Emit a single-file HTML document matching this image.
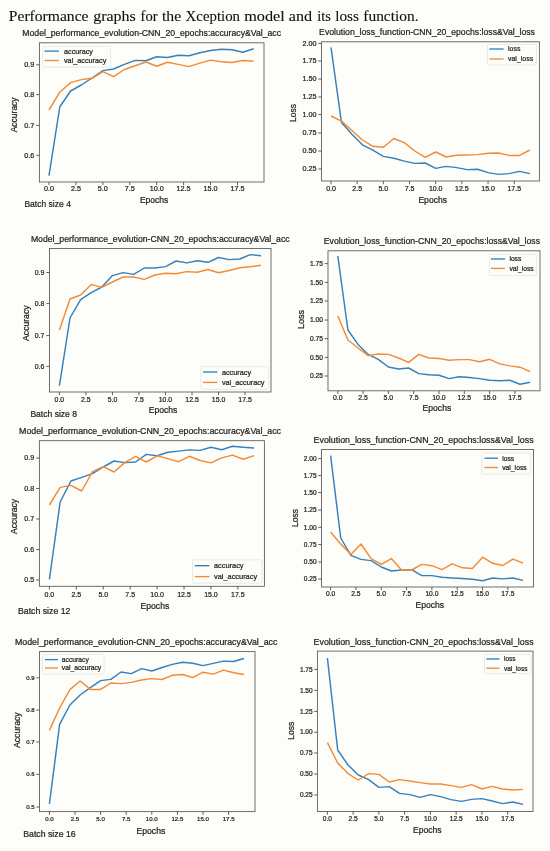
<!DOCTYPE html>
<html><head><meta charset="utf-8"><title>Performance graphs</title>
<style>
html,body{margin:0;padding:0;background:#fdfdf9;}
body{width:550px;height:851px;overflow:hidden;}
svg{display:block;will-change:transform;}
svg text{font-family:"Liberation Sans",sans-serif;stroke:#222;stroke-width:0.22px;}
svg text.cap{stroke:#111;stroke-width:0.12px;}
svg text.cap{font-family:"Liberation Serif",serif;}
</style></head><body>
<svg width="550" height="851" viewBox="0 0 550 851">
<rect width="550" height="851" fill="#fdfdf9"/>
<text class="cap" x="8.8" y="20.5" font-size="15.3" textLength="79.71" lengthAdjust="spacingAndGlyphs" fill="#111">Performance</text>
<text class="cap" x="93.2" y="20.5" font-size="15.3" textLength="42.6" lengthAdjust="spacingAndGlyphs" fill="#111">graphs</text>
<text class="cap" x="140.6" y="20.5" font-size="15.3" textLength="17" lengthAdjust="spacingAndGlyphs" fill="#111">for</text>
<text class="cap" x="162" y="20.5" font-size="15.3" textLength="19.19" lengthAdjust="spacingAndGlyphs" fill="#111">the</text>
<text class="cap" x="185.6" y="20.5" font-size="15.3" textLength="54.39" lengthAdjust="spacingAndGlyphs" fill="#111">Xception</text>
<text class="cap" x="244.2" y="20.5" font-size="15.3" textLength="40.59" lengthAdjust="spacingAndGlyphs" fill="#111">model</text>
<text class="cap" x="288.8" y="20.5" font-size="15.3" textLength="23.3" lengthAdjust="spacingAndGlyphs" fill="#111">and</text>
<text class="cap" x="317.2" y="20.5" font-size="15.3" textLength="13.6" lengthAdjust="spacingAndGlyphs" fill="#111">its</text>
<text class="cap" x="335.2" y="20.5" font-size="15.3" textLength="23.7" lengthAdjust="spacingAndGlyphs" fill="#111">loss</text>
<text class="cap" x="363.3" y="20.5" font-size="15.3" textLength="55.19" lengthAdjust="spacingAndGlyphs" fill="#111">function.</text>
<polyline points="49,175.6 59.77,107 70.54,91 81.31,85 92.08,78 102.85,70.6 113.62,69 124.39,64.4 135.16,60.4 145.93,60.8 156.7,56.8 167.47,57.5 178.24,55.3 189.01,55.7 199.78,52.7 210.55,50.5 221.32,49.2 232.09,49.8 242.86,52.2 253.63,48.7" fill="none" stroke="#3680bb" stroke-width="1.45" stroke-linejoin="round"/>
<polyline points="49,110 59.77,92.2 70.54,82.6 81.31,79.6 92.08,78.3 102.85,71.6 113.62,76.6 124.39,69.5 135.16,65.8 145.93,62 156.7,66.2 167.47,62.3 178.24,64.4 189.01,66.6 199.78,63.1 210.55,60.1 221.32,61.8 232.09,62.5 242.86,60.5 253.63,61.2" fill="none" stroke="#f38b36" stroke-width="1.45" stroke-linejoin="round"/>
<rect x="42.6" y="46.4" width="68" height="20.7" rx="1.5" fill="#fdfdf9" fill-opacity="0.8" stroke="#e3e3e0" stroke-width="0.8"/>
<line x1="44.5" y1="51.1" x2="59" y2="51.1" stroke="#3680bb" stroke-width="1.35"/>
<text x="64" y="53.71" font-size="7.25" textLength="29" lengthAdjust="spacingAndGlyphs" fill="#222">accuracy</text>
<line x1="44.5" y1="60.5" x2="59" y2="60.5" stroke="#f38b36" stroke-width="1.35"/>
<text x="64" y="63.11" font-size="7.25" textLength="42.3" lengthAdjust="spacingAndGlyphs" fill="#222">val_accuracy</text>
<rect x="39.4" y="42.8" width="224.6" height="139.2" fill="none" stroke="#5e5e5e" stroke-width="0.9"/>
<line x1="36.2" y1="155.3" x2="39.4" y2="155.3" stroke="#5e5e5e" stroke-width="1"/>
<text x="34.4" y="157.81" font-size="7.3" text-anchor="end" fill="#222">0.6</text>
<line x1="36.2" y1="125.3" x2="39.4" y2="125.3" stroke="#5e5e5e" stroke-width="1"/>
<text x="34.4" y="127.81" font-size="7.3" text-anchor="end" fill="#222">0.7</text>
<line x1="36.2" y1="94.6" x2="39.4" y2="94.6" stroke="#5e5e5e" stroke-width="1"/>
<text x="34.4" y="97.11" font-size="7.3" text-anchor="end" fill="#222">0.8</text>
<line x1="36.2" y1="64.8" x2="39.4" y2="64.8" stroke="#5e5e5e" stroke-width="1"/>
<text x="34.4" y="67.31" font-size="7.3" text-anchor="end" fill="#222">0.9</text>
<line x1="49" y1="182" x2="49" y2="185.2" stroke="#5e5e5e" stroke-width="1"/>
<text x="49" y="190.98" font-size="7.2" text-anchor="middle" fill="#222">0.0</text>
<line x1="75.92" y1="182" x2="75.92" y2="185.2" stroke="#5e5e5e" stroke-width="1"/>
<text x="75.92" y="190.98" font-size="7.2" text-anchor="middle" fill="#222">2.5</text>
<line x1="102.85" y1="182" x2="102.85" y2="185.2" stroke="#5e5e5e" stroke-width="1"/>
<text x="102.85" y="190.98" font-size="7.2" text-anchor="middle" fill="#222">5.0</text>
<line x1="129.77" y1="182" x2="129.77" y2="185.2" stroke="#5e5e5e" stroke-width="1"/>
<text x="129.77" y="190.98" font-size="7.2" text-anchor="middle" fill="#222">7.5</text>
<line x1="156.7" y1="182" x2="156.7" y2="185.2" stroke="#5e5e5e" stroke-width="1"/>
<text x="156.7" y="190.98" font-size="7.2" text-anchor="middle" fill="#222">10.0</text>
<line x1="183.62" y1="182" x2="183.62" y2="185.2" stroke="#5e5e5e" stroke-width="1"/>
<text x="183.62" y="190.98" font-size="7.2" text-anchor="middle" fill="#222">12.5</text>
<line x1="210.55" y1="182" x2="210.55" y2="185.2" stroke="#5e5e5e" stroke-width="1"/>
<text x="210.55" y="190.98" font-size="7.2" text-anchor="middle" fill="#222">15.0</text>
<line x1="237.47" y1="182" x2="237.47" y2="185.2" stroke="#5e5e5e" stroke-width="1"/>
<text x="237.47" y="190.98" font-size="7.2" text-anchor="middle" fill="#222">17.5</text>
<text x="22.3" y="35.6" font-size="8.8" textLength="258.7" lengthAdjust="spacingAndGlyphs" fill="#222">Model_performance_evolution-CNN_20_epochs:accuracy&amp;Val_acc</text>
<text transform="translate(16.7,0) rotate(-90)" x="-132.3" y="0" font-size="8.4" textLength="34.9" lengthAdjust="spacingAndGlyphs" fill="#222">Accuracy</text>
<text x="139.9" y="202.96" font-size="8.5" textLength="28.5" lengthAdjust="spacingAndGlyphs" fill="#222">Epochs</text>
<text x="24.4" y="207.46" font-size="8.5" textLength="46.5" lengthAdjust="spacingAndGlyphs" fill="#222">Batch size 4</text>
<polyline points="331,47.4 341.47,122.5 351.94,134.2 362.41,144.8 372.88,150.2 383.35,156.4 393.82,158.2 404.29,161.1 414.76,163.4 425.23,163 435.7,168.4 446.17,166.4 456.64,167.6 467.11,169.6 477.58,169.2 488.05,172.6 498.52,174.4 508.99,173.6 519.46,171.4 529.93,173.6" fill="none" stroke="#3680bb" stroke-width="1.45" stroke-linejoin="round"/>
<polyline points="331,116 341.47,121.1 351.94,130.5 362.41,140 372.88,146.3 383.35,147.3 393.82,138.5 404.29,142.6 414.76,151 425.23,157.4 435.7,152 446.17,157 456.64,155.2 467.11,155 477.58,154.6 488.05,153.3 498.52,153 508.99,155.4 519.46,155.4 529.93,150" fill="none" stroke="#f38b36" stroke-width="1.45" stroke-linejoin="round"/>
<rect x="487.4" y="44.4" width="49" height="20.6" rx="1.5" fill="#fdfdf9" fill-opacity="0.8" stroke="#e3e3e0" stroke-width="0.8"/>
<line x1="489.4" y1="49" x2="503.6" y2="49" stroke="#3680bb" stroke-width="1.35"/>
<text x="508" y="51.48" font-size="6.9" textLength="12.4" lengthAdjust="spacingAndGlyphs" fill="#222">loss</text>
<line x1="489.4" y1="59" x2="503.6" y2="59" stroke="#f38b36" stroke-width="1.35"/>
<text x="508" y="61.48" font-size="6.9" textLength="25.2" lengthAdjust="spacingAndGlyphs" fill="#222">val_loss</text>
<rect x="321.5" y="41.8" width="217.9" height="139.2" fill="none" stroke="#5e5e5e" stroke-width="0.9"/>
<line x1="318.3" y1="169" x2="321.5" y2="169" stroke="#5e5e5e" stroke-width="1"/>
<text x="316.6" y="171.48" font-size="7.2" text-anchor="end" fill="#222">0.25</text>
<line x1="318.3" y1="151" x2="321.5" y2="151" stroke="#5e5e5e" stroke-width="1"/>
<text x="316.6" y="153.48" font-size="7.2" text-anchor="end" fill="#222">0.50</text>
<line x1="318.3" y1="133" x2="321.5" y2="133" stroke="#5e5e5e" stroke-width="1"/>
<text x="316.6" y="135.48" font-size="7.2" text-anchor="end" fill="#222">0.75</text>
<line x1="318.3" y1="114.5" x2="321.5" y2="114.5" stroke="#5e5e5e" stroke-width="1"/>
<text x="316.6" y="116.98" font-size="7.2" text-anchor="end" fill="#222">1.00</text>
<line x1="318.3" y1="97" x2="321.5" y2="97" stroke="#5e5e5e" stroke-width="1"/>
<text x="316.6" y="99.48" font-size="7.2" text-anchor="end" fill="#222">1.25</text>
<line x1="318.3" y1="79" x2="321.5" y2="79" stroke="#5e5e5e" stroke-width="1"/>
<text x="316.6" y="81.48" font-size="7.2" text-anchor="end" fill="#222">1.50</text>
<line x1="318.3" y1="61" x2="321.5" y2="61" stroke="#5e5e5e" stroke-width="1"/>
<text x="316.6" y="63.48" font-size="7.2" text-anchor="end" fill="#222">1.75</text>
<line x1="318.3" y1="43.4" x2="321.5" y2="43.4" stroke="#5e5e5e" stroke-width="1"/>
<text x="316.6" y="45.88" font-size="7.2" text-anchor="end" fill="#222">2.00</text>
<line x1="331" y1="181" x2="331" y2="184.2" stroke="#5e5e5e" stroke-width="1"/>
<text x="331" y="190.81" font-size="7" text-anchor="middle" fill="#222">0.0</text>
<line x1="357.18" y1="181" x2="357.18" y2="184.2" stroke="#5e5e5e" stroke-width="1"/>
<text x="357.18" y="190.81" font-size="7" text-anchor="middle" fill="#222">2.5</text>
<line x1="383.35" y1="181" x2="383.35" y2="184.2" stroke="#5e5e5e" stroke-width="1"/>
<text x="383.35" y="190.81" font-size="7" text-anchor="middle" fill="#222">5.0</text>
<line x1="409.52" y1="181" x2="409.52" y2="184.2" stroke="#5e5e5e" stroke-width="1"/>
<text x="409.52" y="190.81" font-size="7" text-anchor="middle" fill="#222">7.5</text>
<line x1="435.7" y1="181" x2="435.7" y2="184.2" stroke="#5e5e5e" stroke-width="1"/>
<text x="435.7" y="190.81" font-size="7" text-anchor="middle" fill="#222">10.0</text>
<line x1="461.88" y1="181" x2="461.88" y2="184.2" stroke="#5e5e5e" stroke-width="1"/>
<text x="461.88" y="190.81" font-size="7" text-anchor="middle" fill="#222">12.5</text>
<line x1="488.05" y1="181" x2="488.05" y2="184.2" stroke="#5e5e5e" stroke-width="1"/>
<text x="488.05" y="190.81" font-size="7" text-anchor="middle" fill="#222">15.0</text>
<line x1="514.23" y1="181" x2="514.23" y2="184.2" stroke="#5e5e5e" stroke-width="1"/>
<text x="514.23" y="190.81" font-size="7" text-anchor="middle" fill="#222">17.5</text>
<text x="319.1" y="34.9" font-size="8.8" textLength="215.8" lengthAdjust="spacingAndGlyphs" fill="#222">Evolution_loss_function-CNN_20_epochs:loss&amp;Val_loss</text>
<text transform="translate(295.8,0) rotate(-90)" x="-121.9" y="0" font-size="8.4" textLength="17.8" lengthAdjust="spacingAndGlyphs" fill="#222">Loss</text>
<text x="418.4" y="203.46" font-size="8.5" textLength="28.6" lengthAdjust="spacingAndGlyphs" fill="#222">Epochs</text>
<polyline points="59.4,385.6 70.01,318 80.62,299.6 91.23,292.6 101.84,287 112.45,275.6 123.06,272.6 133.67,274.4 144.28,268 154.89,268 165.5,266.6 176.11,261 186.72,262.9 197.33,260.7 207.94,262.3 218.55,257.5 229.16,259.6 239.77,259 250.38,254.6 260.99,255.7" fill="none" stroke="#3680bb" stroke-width="1.45" stroke-linejoin="round"/>
<polyline points="59.4,330 70.01,299 80.62,295 91.23,284.4 101.84,287.4 112.45,282 123.06,277 133.67,277 144.28,279.4 154.89,275 165.5,273.2 176.11,273.8 186.72,271.6 197.33,272.3 207.94,269.5 218.55,272.7 229.16,270.5 239.77,267.7 250.38,266.8 260.99,265.3" fill="none" stroke="#f38b36" stroke-width="1.45" stroke-linejoin="round"/>
<rect x="201" y="366.6" width="67.6" height="22.8" rx="1.5" fill="#fdfdf9" fill-opacity="0.8" stroke="#e3e3e0" stroke-width="0.8"/>
<line x1="203" y1="372" x2="217.4" y2="372" stroke="#3680bb" stroke-width="1.35"/>
<text x="221.9" y="374.56" font-size="7.1" textLength="29.21" lengthAdjust="spacingAndGlyphs" fill="#222">accuracy</text>
<line x1="203" y1="382.4" x2="217.4" y2="382.4" stroke="#f38b36" stroke-width="1.35"/>
<text x="221.9" y="384.96" font-size="7.1" textLength="42.6" lengthAdjust="spacingAndGlyphs" fill="#222">val_accuracy</text>
<rect x="49.5" y="248.5" width="221.5" height="143.5" fill="none" stroke="#5e5e5e" stroke-width="0.9"/>
<line x1="46.3" y1="366.4" x2="49.5" y2="366.4" stroke="#5e5e5e" stroke-width="1"/>
<text x="44.3" y="368.77" font-size="6.9" text-anchor="end" fill="#222">0.6</text>
<line x1="46.3" y1="335.6" x2="49.5" y2="335.6" stroke="#5e5e5e" stroke-width="1"/>
<text x="44.3" y="337.97" font-size="6.9" text-anchor="end" fill="#222">0.7</text>
<line x1="46.3" y1="303.6" x2="49.5" y2="303.6" stroke="#5e5e5e" stroke-width="1"/>
<text x="44.3" y="305.97" font-size="6.9" text-anchor="end" fill="#222">0.8</text>
<line x1="46.3" y1="272.5" x2="49.5" y2="272.5" stroke="#5e5e5e" stroke-width="1"/>
<text x="44.3" y="274.87" font-size="6.9" text-anchor="end" fill="#222">0.9</text>
<line x1="59.4" y1="392" x2="59.4" y2="395.2" stroke="#5e5e5e" stroke-width="1"/>
<text x="59.4" y="402.17" font-size="6.9" text-anchor="middle" fill="#222">0.0</text>
<line x1="85.92" y1="392" x2="85.92" y2="395.2" stroke="#5e5e5e" stroke-width="1"/>
<text x="85.92" y="402.17" font-size="6.9" text-anchor="middle" fill="#222">2.5</text>
<line x1="112.45" y1="392" x2="112.45" y2="395.2" stroke="#5e5e5e" stroke-width="1"/>
<text x="112.45" y="402.17" font-size="6.9" text-anchor="middle" fill="#222">5.0</text>
<line x1="138.97" y1="392" x2="138.97" y2="395.2" stroke="#5e5e5e" stroke-width="1"/>
<text x="138.97" y="402.17" font-size="6.9" text-anchor="middle" fill="#222">7.5</text>
<line x1="165.5" y1="392" x2="165.5" y2="395.2" stroke="#5e5e5e" stroke-width="1"/>
<text x="165.5" y="402.17" font-size="6.9" text-anchor="middle" fill="#222">10.0</text>
<line x1="192.03" y1="392" x2="192.03" y2="395.2" stroke="#5e5e5e" stroke-width="1"/>
<text x="192.03" y="402.17" font-size="6.9" text-anchor="middle" fill="#222">12.5</text>
<line x1="218.55" y1="392" x2="218.55" y2="395.2" stroke="#5e5e5e" stroke-width="1"/>
<text x="218.55" y="402.17" font-size="6.9" text-anchor="middle" fill="#222">15.0</text>
<line x1="245.07" y1="392" x2="245.07" y2="395.2" stroke="#5e5e5e" stroke-width="1"/>
<text x="245.07" y="402.17" font-size="6.9" text-anchor="middle" fill="#222">17.5</text>
<text x="30.9" y="241.6" font-size="8.8" textLength="258.7" lengthAdjust="spacingAndGlyphs" fill="#222">Model_performance_evolution-CNN_20_epochs:accuracy&amp;Val_acc</text>
<text transform="translate(28.9,0) rotate(-90)" x="-340.9" y="0" font-size="8.4" textLength="35.4" lengthAdjust="spacingAndGlyphs" fill="#222">Accuracy</text>
<text x="148.8" y="413.06" font-size="8.5" textLength="28.6" lengthAdjust="spacingAndGlyphs" fill="#222">Epochs</text>
<text x="30.4" y="417.06" font-size="8.5" textLength="46.6" lengthAdjust="spacingAndGlyphs" fill="#222">Batch size 8</text>
<polyline points="337.8,256 347.92,330 358.04,344.4 368.16,354.4 378.28,359.4 388.4,367 398.52,369 408.64,368 418.76,373.6 428.88,374.8 439,375.3 449.12,378.6 459.24,376.8 469.36,377.5 479.48,378.6 489.6,380.3 499.72,380.7 509.84,380.3 519.96,384.2 530.08,382.3" fill="none" stroke="#3680bb" stroke-width="1.45" stroke-linejoin="round"/>
<polyline points="337.8,316 347.92,340 358.04,348 368.16,355.6 378.28,354 388.4,354.4 398.52,358 408.64,362.4 418.76,354.4 428.88,358 439,358.5 449.12,360.2 459.24,359.6 469.36,359.6 479.48,361.8 489.6,359.3 499.72,363.9 509.84,365.9 519.96,367.2 530.08,371.6" fill="none" stroke="#f38b36" stroke-width="1.45" stroke-linejoin="round"/>
<rect x="489.6" y="254.4" width="46.8" height="21.2" rx="1.5" fill="#fdfdf9" fill-opacity="0.8" stroke="#e3e3e0" stroke-width="0.8"/>
<line x1="491" y1="259" x2="505" y2="259" stroke="#3680bb" stroke-width="1.35"/>
<text x="509.4" y="261.41" font-size="6.7" textLength="11.91" lengthAdjust="spacingAndGlyphs" fill="#222">loss</text>
<line x1="491" y1="268.4" x2="505" y2="268.4" stroke="#f38b36" stroke-width="1.35"/>
<text x="509.4" y="270.81" font-size="6.7" textLength="24.2" lengthAdjust="spacingAndGlyphs" fill="#222">val_loss</text>
<rect x="328" y="250.8" width="212" height="140" fill="none" stroke="#5e5e5e" stroke-width="0.9"/>
<line x1="324.8" y1="376" x2="328" y2="376" stroke="#5e5e5e" stroke-width="1"/>
<text x="323" y="378.3" font-size="6.7" text-anchor="end" fill="#222">0.25</text>
<line x1="324.8" y1="357.4" x2="328" y2="357.4" stroke="#5e5e5e" stroke-width="1"/>
<text x="323" y="359.7" font-size="6.7" text-anchor="end" fill="#222">0.50</text>
<line x1="324.8" y1="338.6" x2="328" y2="338.6" stroke="#5e5e5e" stroke-width="1"/>
<text x="323" y="340.9" font-size="6.7" text-anchor="end" fill="#222">0.75</text>
<line x1="324.8" y1="320" x2="328" y2="320" stroke="#5e5e5e" stroke-width="1"/>
<text x="323" y="322.3" font-size="6.7" text-anchor="end" fill="#222">1.00</text>
<line x1="324.8" y1="301" x2="328" y2="301" stroke="#5e5e5e" stroke-width="1"/>
<text x="323" y="303.3" font-size="6.7" text-anchor="end" fill="#222">1.25</text>
<line x1="324.8" y1="282.4" x2="328" y2="282.4" stroke="#5e5e5e" stroke-width="1"/>
<text x="323" y="284.7" font-size="6.7" text-anchor="end" fill="#222">1.50</text>
<line x1="324.8" y1="263.6" x2="328" y2="263.6" stroke="#5e5e5e" stroke-width="1"/>
<text x="323" y="265.9" font-size="6.7" text-anchor="end" fill="#222">1.75</text>
<line x1="337.8" y1="390.8" x2="337.8" y2="394" stroke="#5e5e5e" stroke-width="1"/>
<text x="337.8" y="400.37" font-size="6.9" text-anchor="middle" fill="#222">0.0</text>
<line x1="363.1" y1="390.8" x2="363.1" y2="394" stroke="#5e5e5e" stroke-width="1"/>
<text x="363.1" y="400.37" font-size="6.9" text-anchor="middle" fill="#222">2.5</text>
<line x1="388.4" y1="390.8" x2="388.4" y2="394" stroke="#5e5e5e" stroke-width="1"/>
<text x="388.4" y="400.37" font-size="6.9" text-anchor="middle" fill="#222">5.0</text>
<line x1="413.7" y1="390.8" x2="413.7" y2="394" stroke="#5e5e5e" stroke-width="1"/>
<text x="413.7" y="400.37" font-size="6.9" text-anchor="middle" fill="#222">7.5</text>
<line x1="439" y1="390.8" x2="439" y2="394" stroke="#5e5e5e" stroke-width="1"/>
<text x="439" y="400.37" font-size="6.9" text-anchor="middle" fill="#222">10.0</text>
<line x1="464.3" y1="390.8" x2="464.3" y2="394" stroke="#5e5e5e" stroke-width="1"/>
<text x="464.3" y="400.37" font-size="6.9" text-anchor="middle" fill="#222">12.5</text>
<line x1="489.6" y1="390.8" x2="489.6" y2="394" stroke="#5e5e5e" stroke-width="1"/>
<text x="489.6" y="400.37" font-size="6.9" text-anchor="middle" fill="#222">15.0</text>
<line x1="514.9" y1="390.8" x2="514.9" y2="394" stroke="#5e5e5e" stroke-width="1"/>
<text x="514.9" y="400.37" font-size="6.9" text-anchor="middle" fill="#222">17.5</text>
<text x="323.8" y="243.5" font-size="8.8" textLength="216.2" lengthAdjust="spacingAndGlyphs" fill="#222">Evolution_loss_function-CNN_20_epochs:loss&amp;Val_loss</text>
<text transform="translate(304.2,0) rotate(-90)" x="-329" y="0" font-size="8.4" textLength="19" lengthAdjust="spacingAndGlyphs" fill="#222">Loss</text>
<text x="422.6" y="411.06" font-size="8.5" textLength="28.6" lengthAdjust="spacingAndGlyphs" fill="#222">Epochs</text>
<polyline points="49.4,579.4 60.17,502 70.94,481 81.71,477.4 92.48,473.6 103.25,467 114.02,461 124.79,462.6 135.56,462 146.33,454.4 157.1,455.8 167.87,452.3 178.64,451.1 189.41,449.9 200.18,450.4 210.95,447.3 221.72,449.7 232.49,446.3 243.26,447.3 254.03,448" fill="none" stroke="#3680bb" stroke-width="1.45" stroke-linejoin="round"/>
<polyline points="49.4,505 60.17,487.4 70.94,485.4 81.71,491 92.48,471.6 103.25,466.6 114.02,472 124.79,462.6 135.56,456.4 146.33,462 157.1,455.8 167.87,458.6 178.64,461.7 189.41,456.3 200.18,460.5 210.95,462.9 221.72,457.9 232.49,455.1 243.26,459.3 254.03,455.6" fill="none" stroke="#f38b36" stroke-width="1.45" stroke-linejoin="round"/>
<rect x="192.5" y="559.8" width="69.5" height="23.4" rx="1.5" fill="#fdfdf9" fill-opacity="0.8" stroke="#e3e3e0" stroke-width="0.8"/>
<line x1="194.7" y1="565.7" x2="209.5" y2="565.7" stroke="#3680bb" stroke-width="1.35"/>
<text x="214" y="568.22" font-size="7" textLength="29.55" lengthAdjust="spacingAndGlyphs" fill="#222">accuracy</text>
<line x1="194.7" y1="576.6" x2="209.5" y2="576.6" stroke="#f38b36" stroke-width="1.35"/>
<text x="214" y="579.12" font-size="7" textLength="43.1" lengthAdjust="spacingAndGlyphs" fill="#222">val_accuracy</text>
<rect x="39.4" y="440.7" width="225" height="145.6" fill="none" stroke="#5e5e5e" stroke-width="0.9"/>
<line x1="36.2" y1="580" x2="39.4" y2="580" stroke="#5e5e5e" stroke-width="1"/>
<text x="34.2" y="582.44" font-size="7.1" text-anchor="end" fill="#222">0.5</text>
<line x1="36.2" y1="549.6" x2="39.4" y2="549.6" stroke="#5e5e5e" stroke-width="1"/>
<text x="34.2" y="552.04" font-size="7.1" text-anchor="end" fill="#222">0.6</text>
<line x1="36.2" y1="519" x2="39.4" y2="519" stroke="#5e5e5e" stroke-width="1"/>
<text x="34.2" y="521.44" font-size="7.1" text-anchor="end" fill="#222">0.7</text>
<line x1="36.2" y1="488.5" x2="39.4" y2="488.5" stroke="#5e5e5e" stroke-width="1"/>
<text x="34.2" y="490.94" font-size="7.1" text-anchor="end" fill="#222">0.8</text>
<line x1="36.2" y1="458" x2="39.4" y2="458" stroke="#5e5e5e" stroke-width="1"/>
<text x="34.2" y="460.44" font-size="7.1" text-anchor="end" fill="#222">0.9</text>
<line x1="49.4" y1="586.3" x2="49.4" y2="589.5" stroke="#5e5e5e" stroke-width="1"/>
<text x="49.4" y="596.71" font-size="7" text-anchor="middle" fill="#222">0.0</text>
<line x1="76.32" y1="586.3" x2="76.32" y2="589.5" stroke="#5e5e5e" stroke-width="1"/>
<text x="76.32" y="596.71" font-size="7" text-anchor="middle" fill="#222">2.5</text>
<line x1="103.25" y1="586.3" x2="103.25" y2="589.5" stroke="#5e5e5e" stroke-width="1"/>
<text x="103.25" y="596.71" font-size="7" text-anchor="middle" fill="#222">5.0</text>
<line x1="130.17" y1="586.3" x2="130.17" y2="589.5" stroke="#5e5e5e" stroke-width="1"/>
<text x="130.17" y="596.71" font-size="7" text-anchor="middle" fill="#222">7.5</text>
<line x1="157.1" y1="586.3" x2="157.1" y2="589.5" stroke="#5e5e5e" stroke-width="1"/>
<text x="157.1" y="596.71" font-size="7" text-anchor="middle" fill="#222">10.0</text>
<line x1="184.03" y1="586.3" x2="184.03" y2="589.5" stroke="#5e5e5e" stroke-width="1"/>
<text x="184.03" y="596.71" font-size="7" text-anchor="middle" fill="#222">12.5</text>
<line x1="210.95" y1="586.3" x2="210.95" y2="589.5" stroke="#5e5e5e" stroke-width="1"/>
<text x="210.95" y="596.71" font-size="7" text-anchor="middle" fill="#222">15.0</text>
<line x1="237.88" y1="586.3" x2="237.88" y2="589.5" stroke="#5e5e5e" stroke-width="1"/>
<text x="237.88" y="596.71" font-size="7" text-anchor="middle" fill="#222">17.5</text>
<text x="19.1" y="433.6" font-size="8.8" textLength="261.9" lengthAdjust="spacingAndGlyphs" fill="#222">Model_performance_evolution-CNN_20_epochs:accuracy&amp;Val_acc</text>
<text transform="translate(17.1,0) rotate(-90)" x="-533.9" y="0" font-size="8.4" textLength="35" lengthAdjust="spacingAndGlyphs" fill="#222">Accuracy</text>
<text x="140.5" y="608.86" font-size="8.5" textLength="28.8" lengthAdjust="spacingAndGlyphs" fill="#222">Epochs</text>
<text x="18" y="614.06" font-size="8.5" textLength="52.4" lengthAdjust="spacingAndGlyphs" fill="#222">Batch size 12</text>
<polyline points="330.6,455.6 340.73,538 350.86,555.4 360.99,559.4 371.12,560.6 381.25,567 391.38,571 401.51,570 411.64,569.6 421.77,575.6 431.9,575.6 442.03,577.3 452.16,578 462.29,578.5 472.42,579.2 482.55,580.8 492.68,578 502.81,578.9 512.94,578 523.07,580.4" fill="none" stroke="#3680bb" stroke-width="1.45" stroke-linejoin="round"/>
<polyline points="330.6,532 340.73,544 350.86,554.6 360.99,544 371.12,558.6 381.25,564.4 391.38,558.6 401.51,570 411.64,570 421.77,564.4 431.9,565.7 442.03,569.7 452.16,563.8 462.29,567.8 472.42,568.5 482.55,557.2 492.68,563.3 502.81,565.5 512.94,559.1 523.07,563.1" fill="none" stroke="#f38b36" stroke-width="1.45" stroke-linejoin="round"/>
<rect x="481.9" y="452.9" width="48.9" height="21.2" rx="1.5" fill="#fdfdf9" fill-opacity="0.8" stroke="#e3e3e0" stroke-width="0.8"/>
<line x1="484.5" y1="458.2" x2="498" y2="458.2" stroke="#3680bb" stroke-width="1.35"/>
<text x="502.2" y="460.61" font-size="6.7" textLength="12.06" lengthAdjust="spacingAndGlyphs" fill="#222">loss</text>
<line x1="484.5" y1="467.5" x2="498" y2="467.5" stroke="#f38b36" stroke-width="1.35"/>
<text x="502.2" y="469.91" font-size="6.7" textLength="24.5" lengthAdjust="spacingAndGlyphs" fill="#222">val_loss</text>
<rect x="321.5" y="449.5" width="212" height="137.5" fill="none" stroke="#5e5e5e" stroke-width="0.9"/>
<line x1="318.3" y1="579" x2="321.5" y2="579" stroke="#5e5e5e" stroke-width="1"/>
<text x="316.6" y="581.27" font-size="6.6" text-anchor="end" fill="#222">0.25</text>
<line x1="318.3" y1="562" x2="321.5" y2="562" stroke="#5e5e5e" stroke-width="1"/>
<text x="316.6" y="564.27" font-size="6.6" text-anchor="end" fill="#222">0.50</text>
<line x1="318.3" y1="544.6" x2="321.5" y2="544.6" stroke="#5e5e5e" stroke-width="1"/>
<text x="316.6" y="546.87" font-size="6.6" text-anchor="end" fill="#222">0.75</text>
<line x1="318.3" y1="527.3" x2="321.5" y2="527.3" stroke="#5e5e5e" stroke-width="1"/>
<text x="316.6" y="529.57" font-size="6.6" text-anchor="end" fill="#222">1.00</text>
<line x1="318.3" y1="510" x2="321.5" y2="510" stroke="#5e5e5e" stroke-width="1"/>
<text x="316.6" y="512.27" font-size="6.6" text-anchor="end" fill="#222">1.25</text>
<line x1="318.3" y1="492.6" x2="321.5" y2="492.6" stroke="#5e5e5e" stroke-width="1"/>
<text x="316.6" y="494.87" font-size="6.6" text-anchor="end" fill="#222">1.50</text>
<line x1="318.3" y1="475.6" x2="321.5" y2="475.6" stroke="#5e5e5e" stroke-width="1"/>
<text x="316.6" y="477.87" font-size="6.6" text-anchor="end" fill="#222">1.75</text>
<line x1="318.3" y1="458.6" x2="321.5" y2="458.6" stroke="#5e5e5e" stroke-width="1"/>
<text x="316.6" y="460.87" font-size="6.6" text-anchor="end" fill="#222">2.00</text>
<line x1="330.6" y1="587" x2="330.6" y2="590.2" stroke="#5e5e5e" stroke-width="1"/>
<text x="330.6" y="596.4" font-size="6.7" text-anchor="middle" fill="#222">0.0</text>
<line x1="355.93" y1="587" x2="355.93" y2="590.2" stroke="#5e5e5e" stroke-width="1"/>
<text x="355.93" y="596.4" font-size="6.7" text-anchor="middle" fill="#222">2.5</text>
<line x1="381.25" y1="587" x2="381.25" y2="590.2" stroke="#5e5e5e" stroke-width="1"/>
<text x="381.25" y="596.4" font-size="6.7" text-anchor="middle" fill="#222">5.0</text>
<line x1="406.58" y1="587" x2="406.58" y2="590.2" stroke="#5e5e5e" stroke-width="1"/>
<text x="406.58" y="596.4" font-size="6.7" text-anchor="middle" fill="#222">7.5</text>
<line x1="431.9" y1="587" x2="431.9" y2="590.2" stroke="#5e5e5e" stroke-width="1"/>
<text x="431.9" y="596.4" font-size="6.7" text-anchor="middle" fill="#222">10.0</text>
<line x1="457.23" y1="587" x2="457.23" y2="590.2" stroke="#5e5e5e" stroke-width="1"/>
<text x="457.23" y="596.4" font-size="6.7" text-anchor="middle" fill="#222">12.5</text>
<line x1="482.55" y1="587" x2="482.55" y2="590.2" stroke="#5e5e5e" stroke-width="1"/>
<text x="482.55" y="596.4" font-size="6.7" text-anchor="middle" fill="#222">15.0</text>
<line x1="507.88" y1="587" x2="507.88" y2="590.2" stroke="#5e5e5e" stroke-width="1"/>
<text x="507.88" y="596.4" font-size="6.7" text-anchor="middle" fill="#222">17.5</text>
<text x="313.6" y="443" font-size="8.8" textLength="220" lengthAdjust="spacingAndGlyphs" fill="#222">Evolution_loss_function-CNN_20_epochs:loss&amp;Val_loss</text>
<text transform="translate(298.4,0) rotate(-90)" x="-527" y="0" font-size="8.4" textLength="18" lengthAdjust="spacingAndGlyphs" fill="#222">Loss</text>
<text x="415.5" y="608.26" font-size="8.5" textLength="28.6" lengthAdjust="spacingAndGlyphs" fill="#222">Epochs</text>
<polyline points="49.4,804 59.64,724.4 69.88,705 80.12,695 90.36,687.6 100.6,680.6 110.84,679.4 121.08,672 131.32,673.6 141.56,668.6 151.8,671 162.04,667.5 172.28,664.4 182.52,662.3 192.76,663.2 203,665.6 213.24,663.4 223.48,661.1 233.72,661.5 243.96,658.5" fill="none" stroke="#3680bb" stroke-width="1.45" stroke-linejoin="round"/>
<polyline points="49.4,730.4 59.64,708 69.88,689.6 80.12,681 90.36,689.4 100.6,689.4 110.84,683 121.08,683.6 131.32,682.4 141.56,680 151.8,678.6 162.04,679.5 172.28,675.3 182.52,674.5 192.76,677.6 203,672.2 213.24,674.1 223.48,670.1 233.72,672.7 243.96,674.5" fill="none" stroke="#f38b36" stroke-width="1.45" stroke-linejoin="round"/>
<rect x="42.4" y="654.4" width="61.6" height="19.6" rx="1.5" fill="#fdfdf9" fill-opacity="0.8" stroke="#e3e3e0" stroke-width="0.8"/>
<line x1="45" y1="659.6" x2="58" y2="659.6" stroke="#3680bb" stroke-width="1.35"/>
<text x="61.8" y="661.98" font-size="6.6" textLength="27.01" lengthAdjust="spacingAndGlyphs" fill="#222">accuracy</text>
<line x1="45" y1="668" x2="58" y2="668" stroke="#f38b36" stroke-width="1.35"/>
<text x="61.8" y="670.38" font-size="6.6" textLength="39.4" lengthAdjust="spacingAndGlyphs" fill="#222">val_accuracy</text>
<rect x="39.5" y="651.6" width="215.5" height="160" fill="none" stroke="#5e5e5e" stroke-width="0.9"/>
<line x1="36.3" y1="807" x2="39.5" y2="807" stroke="#5e5e5e" stroke-width="1"/>
<text x="34.6" y="809.06" font-size="6" text-anchor="end" fill="#222">0.5</text>
<line x1="36.3" y1="774.4" x2="39.5" y2="774.4" stroke="#5e5e5e" stroke-width="1"/>
<text x="34.6" y="776.46" font-size="6" text-anchor="end" fill="#222">0.6</text>
<line x1="36.3" y1="742" x2="39.5" y2="742" stroke="#5e5e5e" stroke-width="1"/>
<text x="34.6" y="744.06" font-size="6" text-anchor="end" fill="#222">0.7</text>
<line x1="36.3" y1="710" x2="39.5" y2="710" stroke="#5e5e5e" stroke-width="1"/>
<text x="34.6" y="712.06" font-size="6" text-anchor="end" fill="#222">0.8</text>
<line x1="36.3" y1="677.8" x2="39.5" y2="677.8" stroke="#5e5e5e" stroke-width="1"/>
<text x="34.6" y="679.86" font-size="6" text-anchor="end" fill="#222">0.9</text>
<line x1="49.4" y1="811.6" x2="49.4" y2="814.8" stroke="#5e5e5e" stroke-width="1"/>
<text x="49.4" y="820.7" font-size="6.1" text-anchor="middle" fill="#222">0.0</text>
<line x1="75" y1="811.6" x2="75" y2="814.8" stroke="#5e5e5e" stroke-width="1"/>
<text x="75" y="820.7" font-size="6.1" text-anchor="middle" fill="#222">2.5</text>
<line x1="100.6" y1="811.6" x2="100.6" y2="814.8" stroke="#5e5e5e" stroke-width="1"/>
<text x="100.6" y="820.7" font-size="6.1" text-anchor="middle" fill="#222">5.0</text>
<line x1="126.2" y1="811.6" x2="126.2" y2="814.8" stroke="#5e5e5e" stroke-width="1"/>
<text x="126.2" y="820.7" font-size="6.1" text-anchor="middle" fill="#222">7.5</text>
<line x1="151.8" y1="811.6" x2="151.8" y2="814.8" stroke="#5e5e5e" stroke-width="1"/>
<text x="151.8" y="820.7" font-size="6.1" text-anchor="middle" fill="#222">10.0</text>
<line x1="177.4" y1="811.6" x2="177.4" y2="814.8" stroke="#5e5e5e" stroke-width="1"/>
<text x="177.4" y="820.7" font-size="6.1" text-anchor="middle" fill="#222">12.5</text>
<line x1="203" y1="811.6" x2="203" y2="814.8" stroke="#5e5e5e" stroke-width="1"/>
<text x="203" y="820.7" font-size="6.1" text-anchor="middle" fill="#222">15.0</text>
<line x1="228.6" y1="811.6" x2="228.6" y2="814.8" stroke="#5e5e5e" stroke-width="1"/>
<text x="228.6" y="820.7" font-size="6.1" text-anchor="middle" fill="#222">17.5</text>
<text x="15" y="644.7" font-size="8.8" textLength="262.4" lengthAdjust="spacingAndGlyphs" fill="#222">Model_performance_evolution-CNN_20_epochs:accuracy&amp;Val_acc</text>
<text transform="translate(19.6,0) rotate(-90)" x="-748.1" y="0" font-size="8.4" textLength="35.8" lengthAdjust="spacingAndGlyphs" fill="#222">Accuracy</text>
<text x="136.5" y="834.06" font-size="8.5" textLength="28.8" lengthAdjust="spacingAndGlyphs" fill="#222">Epochs</text>
<text x="23.3" y="836.86" font-size="8.5" textLength="52.3" lengthAdjust="spacingAndGlyphs" fill="#222">Batch size 16</text>
<polyline points="327.4,658 337.7,750 348,765 358.3,775 368.6,779.6 378.9,787.4 389.2,786.6 399.5,793.4 409.8,794.6 420.1,797.4 430.4,794.6 440.7,796.6 451,799.6 461.3,801.4 471.6,799.4 481.9,798.6 492.2,801 502.5,803.6 512.8,802 523.1,804.4" fill="none" stroke="#3680bb" stroke-width="1.45" stroke-linejoin="round"/>
<polyline points="327.4,742.6 337.7,763 348,773.6 358.3,780 368.6,773.6 378.9,774.4 389.2,782 399.5,779.6 409.8,781 420.1,782.6 430.4,784 440.7,784 451,785.6 461.3,787.4 471.6,784.6 481.9,789 492.2,786.4 502.5,789 512.8,790 523.1,789.4" fill="none" stroke="#f38b36" stroke-width="1.45" stroke-linejoin="round"/>
<rect x="484.5" y="654.4" width="46.3" height="19.2" rx="1.5" fill="#fdfdf9" fill-opacity="0.8" stroke="#e3e3e0" stroke-width="0.8"/>
<line x1="486.3" y1="659" x2="499.4" y2="659" stroke="#3680bb" stroke-width="1.35"/>
<text x="504" y="661.38" font-size="6.6" textLength="11.57" lengthAdjust="spacingAndGlyphs" fill="#222">loss</text>
<line x1="486.3" y1="668.2" x2="499.4" y2="668.2" stroke="#f38b36" stroke-width="1.35"/>
<text x="504" y="670.58" font-size="6.6" textLength="23.5" lengthAdjust="spacingAndGlyphs" fill="#222">val_loss</text>
<rect x="317.4" y="651.1" width="215.6" height="160.4" fill="none" stroke="#5e5e5e" stroke-width="0.9"/>
<line x1="314.2" y1="795" x2="317.4" y2="795" stroke="#5e5e5e" stroke-width="1"/>
<text x="312.6" y="797.24" font-size="6.5" text-anchor="end" fill="#222">0.25</text>
<line x1="314.2" y1="774" x2="317.4" y2="774" stroke="#5e5e5e" stroke-width="1"/>
<text x="312.6" y="776.24" font-size="6.5" text-anchor="end" fill="#222">0.50</text>
<line x1="314.2" y1="753" x2="317.4" y2="753" stroke="#5e5e5e" stroke-width="1"/>
<text x="312.6" y="755.24" font-size="6.5" text-anchor="end" fill="#222">0.75</text>
<line x1="314.2" y1="732.2" x2="317.4" y2="732.2" stroke="#5e5e5e" stroke-width="1"/>
<text x="312.6" y="734.44" font-size="6.5" text-anchor="end" fill="#222">1.00</text>
<line x1="314.2" y1="711.4" x2="317.4" y2="711.4" stroke="#5e5e5e" stroke-width="1"/>
<text x="312.6" y="713.64" font-size="6.5" text-anchor="end" fill="#222">1.25</text>
<line x1="314.2" y1="690.4" x2="317.4" y2="690.4" stroke="#5e5e5e" stroke-width="1"/>
<text x="312.6" y="692.64" font-size="6.5" text-anchor="end" fill="#222">1.50</text>
<line x1="314.2" y1="669.4" x2="317.4" y2="669.4" stroke="#5e5e5e" stroke-width="1"/>
<text x="312.6" y="671.64" font-size="6.5" text-anchor="end" fill="#222">1.75</text>
<line x1="327.4" y1="811.5" x2="327.4" y2="814.7" stroke="#5e5e5e" stroke-width="1"/>
<text x="327.4" y="820.97" font-size="6.6" text-anchor="middle" fill="#222">0.0</text>
<line x1="353.15" y1="811.5" x2="353.15" y2="814.7" stroke="#5e5e5e" stroke-width="1"/>
<text x="353.15" y="820.97" font-size="6.6" text-anchor="middle" fill="#222">2.5</text>
<line x1="378.9" y1="811.5" x2="378.9" y2="814.7" stroke="#5e5e5e" stroke-width="1"/>
<text x="378.9" y="820.97" font-size="6.6" text-anchor="middle" fill="#222">5.0</text>
<line x1="404.65" y1="811.5" x2="404.65" y2="814.7" stroke="#5e5e5e" stroke-width="1"/>
<text x="404.65" y="820.97" font-size="6.6" text-anchor="middle" fill="#222">7.5</text>
<line x1="430.4" y1="811.5" x2="430.4" y2="814.7" stroke="#5e5e5e" stroke-width="1"/>
<text x="430.4" y="820.97" font-size="6.6" text-anchor="middle" fill="#222">10.0</text>
<line x1="456.15" y1="811.5" x2="456.15" y2="814.7" stroke="#5e5e5e" stroke-width="1"/>
<text x="456.15" y="820.97" font-size="6.6" text-anchor="middle" fill="#222">12.5</text>
<line x1="481.9" y1="811.5" x2="481.9" y2="814.7" stroke="#5e5e5e" stroke-width="1"/>
<text x="481.9" y="820.97" font-size="6.6" text-anchor="middle" fill="#222">15.0</text>
<line x1="507.65" y1="811.5" x2="507.65" y2="814.7" stroke="#5e5e5e" stroke-width="1"/>
<text x="507.65" y="820.97" font-size="6.6" text-anchor="middle" fill="#222">17.5</text>
<text x="313.6" y="644.7" font-size="8.8" textLength="220" lengthAdjust="spacingAndGlyphs" fill="#222">Evolution_loss_function-CNN_20_epochs:loss&amp;Val_loss</text>
<text transform="translate(294.2,0) rotate(-90)" x="-739.8" y="0" font-size="8.4" textLength="18" lengthAdjust="spacingAndGlyphs" fill="#222">Loss</text>
<text x="413" y="832.66" font-size="8.5" textLength="28.6" lengthAdjust="spacingAndGlyphs" fill="#222">Epochs</text>
</svg>
</body></html>
